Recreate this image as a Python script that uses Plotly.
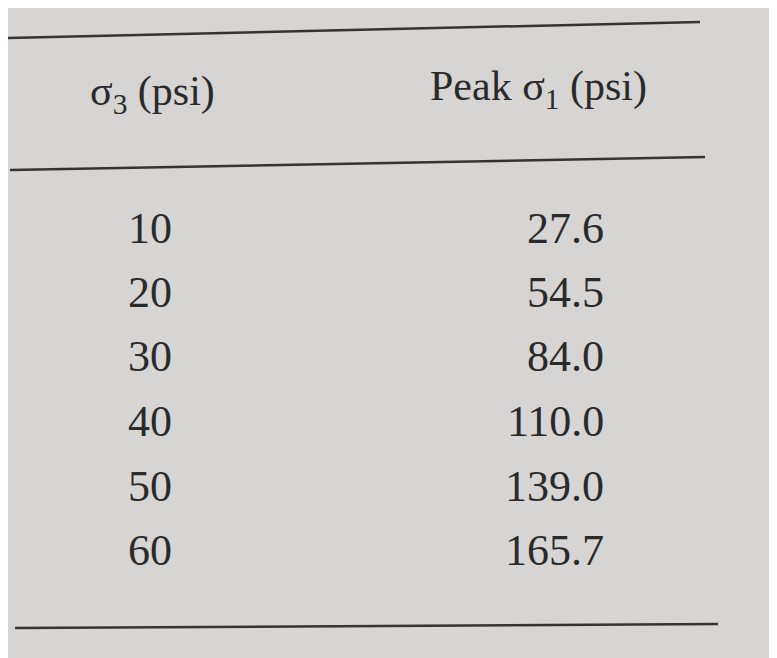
import plotly.graph_objects as go

sigma3 = ["10", "20", "30", "40", "50", "60"]
peak_sigma1 = ["27.6", "54.5", "84.0", "110.0", "139.0", "165.7"]
headers = ["σ<sub>3</sub> (psi)", "Peak σ<sub>1</sub> (psi)"]

W, H = 777, 658
OX, OY = 8, 8
fig = go.Figure()
font = dict(family="Liberation Serif", size=44, color="#2b2a2a")
hfont = dict(family="Liberation Serif", size=42, color="#2b2a2a")

def xpx(x):
    return (x - OX) / W

def ypx(y):
    return 1 - (y - OY) / H

anns = []
anns.append(dict(x=xpx(152), y=ypx(94), text=headers[0], xanchor="center", yanchor="middle", font=hfont))
anns.append(dict(x=xpx(538), y=ypx(89), text=headers[1], xanchor="center", yanchor="middle", font=hfont))
rows_y = [228, 293, 357, 421, 486, 550]
for s, p, y in zip(sigma3, peak_sigma1, rows_y):
    anns.append(dict(x=xpx(150), y=ypx(y), text=s, xanchor="center", yanchor="middle", font=font))
    anns.append(dict(x=xpx(606), y=ypx(y), text=p, xanchor="right", yanchor="middle", font=font))
for a in anns:
    a.update(xref="paper", yref="paper", showarrow=False)

line = dict(color="#333333", width=2.5)
shapes = [
    dict(type="line", xref="paper", yref="paper", x0=xpx(5), x1=xpx(700), y0=ypx(38), y1=ypx(22), line=line),
    dict(type="line", xref="paper", yref="paper", x0=xpx(10), x1=xpx(705), y0=ypx(170), y1=ypx(157), line=line),
    dict(type="line", xref="paper", yref="paper", x0=xpx(15), x1=xpx(718), y0=ypx(628), y1=ypx(624), line=line),
]

fig.update_layout(width=W, height=H, margin=dict(l=0, r=0, t=0, b=0),
                  paper_bgcolor="#d6d5d3", plot_bgcolor="#d6d5d3",
                  xaxis=dict(visible=False), yaxis=dict(visible=False),
                  annotations=anns, shapes=shapes)
fig.write_html("out.html")
